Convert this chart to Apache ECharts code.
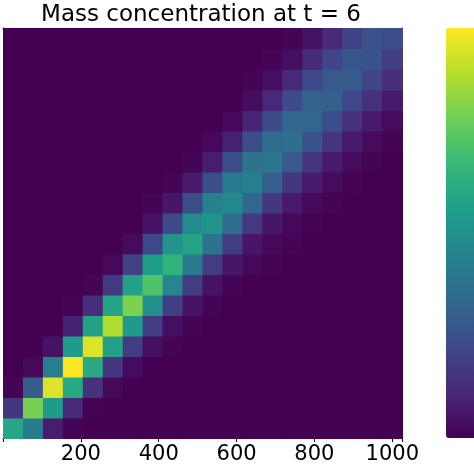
<!DOCTYPE html>
<html>
<head>
<meta charset="utf-8">
<script src="https://cdn.jsdelivr.net/npm/echarts@6/dist/echarts.min.js"></script>
<style>html,body{margin:0;padding:0;background:#fff}#chart{width:474px;height:474px}</style>
</head>
<body>
<div id="chart"></div>
<script>
// grid of 20 x 20 cells over 0..1025 in both directions
var nCells = 20;
var extent = 1025;
var xTicks = [200, 400, 600, 800, 1000];
// per column: first non-zero row, then the concentration values going up
var bandStart = [0, 0, 0, 0, 1, 2, 3, 4, 4, 5, 6, 7, 8, 8, 9, 10, 11, 12, 13, 14];
var bandValues = [
    [.59, .16, .01],
    [.42, .79, .29, .02],
    [.08, .54, .95, .43, .05],
    [.01, .12, .60, 1.0, .54, .09, .01],
    [.01, .14, .60, .95, .57, .13, .01],
    [.02, .16, .57, .88, .58, .17, .02],
    [.03, .18, .54, .80, .57, .20, .03],
    [.04, .18, .50, .72, .55, .22, .05, .01],
    [.01, .04, .19, .46, .65, .52, .23, .06, .01],
    [.01, .05, .18, .42, .58, .48, .24, .07, .01],
    [.01, .05, .18, .38, .52, .44, .24, .08, .02],
    [.01, .06, .18, .35, .47, .41, .24, .09, .02],
    [.02, .06, .17, .33, .43, .38, .24, .10, .03, .01],
    [.01, .02, .06, .16, .30, .39, .35, .23, .11, .04, .01],
    [.01, .02, .07, .16, .28, .36, .33, .23, .11, .04, .01],
    [.01, .02, .07, .15, .26, .33, .31, .22, .12, .05],
    [.01, .03, .07, .15, .24, .30, .28, .21, .12],
    [.01, .03, .07, .14, .22, .28, .27, .20],
    [.01, .03, .07, .14, .21, .26, .25],
    [.01, .03, .07, .13, .19, .24]
];
var viridis = ['#440154', '#482878', '#3e4989', '#31688e', '#26828e', '#1f9e89', '#35b779', '#6ece58', '#b5de2b', '#fde725'];

var cellSize = extent / nCells;
var cells = [];
for (var i = 0; i < nCells; i++) {
    for (var j = 0; j < nCells; j++) {
        var k = j - bandStart[i];
        var v = (k >= 0 && k < bandValues[i].length) ? bandValues[i][k] : 0;
        cells.push([i * cellSize, j * cellSize, v]);
    }
}

var chart = echarts.init(document.getElementById('chart'));
var plainAxis = {
    type: 'value', min: 0, max: extent,
    axisLine: {show: true, onZero: false, lineStyle: {color: '#000', width: 1}},
    axisTick: {show: false}, axisLabel: {show: false}, splitLine: {show: false}
};
option = {
    animation: false,
    title: {
        text: 'Mass concentration at t = 6',
        left: 196, top: -1, textAlign: 'center',
        textStyle: {fontFamily: 'DejaVu Sans', fontSize: 23, fontWeight: 'normal', color: '#000'}
    },
    grid: {left: -9, top: 28, width: 411, height: 410},
    visualMap: {
        type: 'continuous', min: 0, max: 1, dimension: 2,
        calculable: false, text: ['', ''], padding: 0,
        left: 446, top: 28, itemWidth: 32, itemHeight: 410,
        inRange: {color: viridis}
    },
    xAxis: [
        {
            type: 'value', min: 0, max: extent, interval: 200, position: 'bottom',
            axisLine: {show: true, onZero: false, lineStyle: {color: '#000', width: 1}},
            axisTick: {show: true, inside: false, length: 4, lineStyle: {color: '#000'}},
            axisLabel: {
                color: '#000', fontSize: 21, fontFamily: 'DejaVu Sans', margin: 6,
                formatter: function (v) { return xTicks.indexOf(v) >= 0 ? String(v) : ''; }
            },
            splitLine: {show: false}
        },
        echarts.util.extend({position: 'top'}, plainAxis)
    ],
    yAxis: [
        echarts.util.extend({position: 'left'}, plainAxis),
        echarts.util.extend({position: 'right'}, plainAxis)
    ],
    series: [{
        type: 'custom',
        xAxisIndex: 0, yAxisIndex: 0,
        encode: {x: 0, y: 1},
        data: cells,
        renderItem: function (params, api) {
            var x0 = api.value(0), y0 = api.value(1);
            var p0 = api.coord([x0, y0 + cellSize]);
            var p1 = api.coord([x0 + cellSize, y0]);
            return {
                type: 'rect',
                shape: {x: p0[0], y: p0[1], width: p1[0] - p0[0] + 1, height: p1[1] - p0[1] + 1},
                style: {fill: api.visual('color')}
            };
        },
        z: 1
    }]
};
chart.setOption(option);
</script>
</body>
</html>
